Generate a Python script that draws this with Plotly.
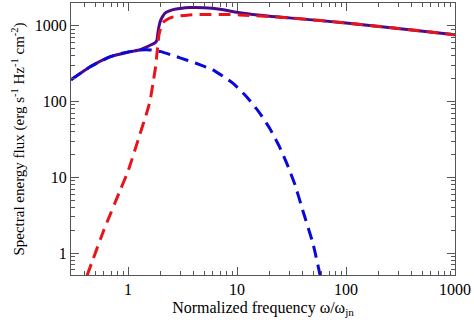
import plotly.graph_objects as go

# Total (solid purple)
tot_x = [0.3, 0.45, 0.68, 1.04, 1.29, 1.49, 1.65, 1.78, 1.84, 1.88, 1.93, 1.98, 2.08, 2.2, 2.4, 2.6, 3.0, 3.7, 5.0, 7.0, 10.6, 20, 30, 100, 300, 1000]
tot_y = [193, 287, 388, 452, 482, 526, 565, 600, 640, 800, 1000, 1150, 1330, 1480, 1570, 1630, 1690, 1740, 1730, 1650, 1480, 1330, 1270, 1090, 920, 760]

# Red dashed component
red_x = [0.42, 0.6, 0.85, 1.0, 1.21, 1.49, 1.59, 1.69, 1.80, 1.84, 1.88, 1.92, 2.0, 2.09, 2.3, 2.6, 3.5, 5.0, 7.0, 10.6, 20, 30, 100, 300, 1000]
red_y = [0.5, 2.0, 6.8, 12, 28, 72, 100, 170, 300, 420, 560, 750, 950, 1100, 1220, 1310, 1380, 1410, 1410, 1390, 1320, 1270, 1090, 920, 760]

# Blue dashed component
blue_x = [0.3, 0.45, 0.68, 0.85, 1.04, 1.3, 1.6, 2.0, 3.0, 4.2, 6.0, 9.1, 12.3, 16.1, 20, 24.6, 28.5, 34, 40, 50, 58]
blue_y = [193, 287, 388, 430, 455, 478, 480, 455, 377, 320, 261, 176, 115, 71, 44, 25, 15.5, 8, 3.7, 1.3, 0.5]

x_ticks = [1, 10, 100, 1000]
y_ticks = [1, 10, 100, 1000]

fig = go.Figure()
fig.add_trace(go.Scatter(x=tot_x, y=tot_y, mode="lines",
                         line=dict(color="#4b0a8c", width=3, shape="spline", smoothing=0.5)))
fig.add_trace(go.Scatter(x=blue_x, y=blue_y, mode="lines",
                         line=dict(color="#0a0ad8", width=3, dash="12px,7px", shape="spline", smoothing=0.5)))
fig.add_trace(go.Scatter(x=red_x, y=red_y, mode="lines",
                         line=dict(color="#e8141c", width=3, dash="12px,7px", shape="spline", smoothing=0.5)))

axis_font = dict(family="Liberation Serif", size=16, color="black")
fig.update_layout(
    width=474, height=325,
    margin=dict(l=71, r=19, t=3, b=50),
    paper_bgcolor="white", plot_bgcolor="white",
    showlegend=False,
    font=dict(family="Liberation Serif", color="black"),
)
fig.update_xaxes(
    type="log", range=[-0.523, 3.0],
    tickvals=x_ticks, ticktext=[str(v) for v in x_ticks],
    ticks="inside", ticklen=8, tickcolor="#555", tickfont=axis_font,
    minor=dict(ticks="inside", ticklen=4, tickcolor="#555", dtick="D1"),
    showline=True, linecolor="#555", linewidth=1, mirror="allticks",
    showgrid=False, zeroline=False,
    title=dict(text="Normalized frequency ω/ω<sub>jn</sub>", font=dict(family="Liberation Serif", size=16), standoff=4),
)
fig.update_yaxes(
    type="log", range=[-0.29, 3.30],
    tickvals=y_ticks, ticktext=[str(v) for v in y_ticks],
    ticks="inside", ticklen=8, tickcolor="#555", tickfont=axis_font,
    minor=dict(ticks="inside", ticklen=4, tickcolor="#555", dtick="D1"),
    showline=True, linecolor="#555", linewidth=1, mirror="allticks",
    showgrid=False, zeroline=False,
    title=dict(text="Spectral energy flux (erg s<sup>-1</sup> Hz<sup>-1</sup> cm<sup>-2</sup>)",
               font=dict(family="Liberation Serif", size=15), standoff=6),
)

fig.write_html("out.html")
